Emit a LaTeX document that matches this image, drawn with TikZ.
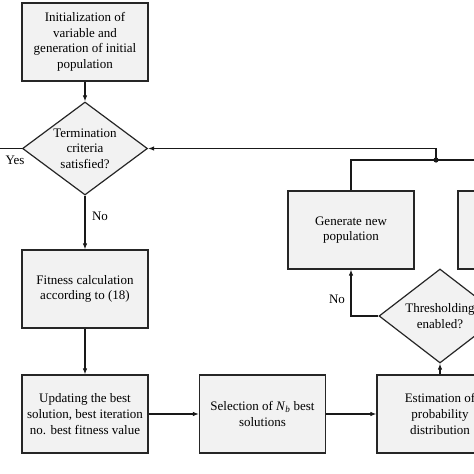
\documentclass[tikz,border=0pt]{standalone}
\usepackage{fontspec}
\setmainfont{Liberation Serif}
\usetikzlibrary{shapes.geometric, arrows.meta}
\begin{document}
\begin{tikzpicture}[x=1pt, y=-1pt, >={Latex[length=6pt, width=4.5pt]}]
  \tikzstyle{stepbox}=[rectangle, line width=1.2pt, draw=black!85, fill=gray!10,
    minimum width=126pt, minimum height=78pt, align=center,
    font=\fontsize{13}{15.6}\selectfont]
  \tikzstyle{decision}=[diamond, line width=1.2pt, draw=black!85, fill=gray!10,
    aspect=1.34, inner sep=0pt, minimum width=125pt, minimum height=93pt,
    align=center, font=\fontsize{13}{15.6}\selectfont]
  \tikzstyle{flow}=[line width=1.1pt, draw=black!90]
  \tikzstyle{lbl}=[font=\fontsize{13}{15.6}\selectfont]
  \clip (0, 0) rectangle (474, 474);
  \fill[white] (0, 0) rectangle (474, 474);
  \node[stepbox] (init) at (85, 42) {Initialization of\\variable and\\generation of initial\\population};
  \node[decision] (term) at (85, 148.5) {Termination\\criteria\\satisfied?};
  \node[stepbox] (fit) at (85, 289) {Fitness calculation\\according to (18)};
  \node[stepbox] (upd) at (85, 414) {Updating the best\\solution, best iteration\\no. best fitness value};
  \node[stepbox] (sel) at (262.5, 414) {Selection of \textit{N}\textsubscript{\textit{b}} best\\solutions};
  \node[stepbox] (est) at (440, 414) {Estimation of\\probability\\distribution};
  \node[decision, aspect=1.3, minimum width=122pt, minimum height=94pt] (thr) at (440, 316) {Thresholding\\enabled?};
  \node[stepbox] (gen) at (351, 230) {Generate new\\population};
  \node[stepbox] (nxt) at (521, 230) {};
  \coordinate (jn) at (436, 160);
  \coordinate (yesend) at (-5, 148.5);
  \draw[flow, ->] (init) -- (term);
  \draw[flow, ->] (term) -- (fit);
  \draw[flow, ->] (fit) -- (upd);
  \draw[flow, ->] (upd) -- (sel);
  \draw[flow, ->] (sel) -- (est);
  \draw[flow, ->] (est) -- (thr);
  \draw[flow, ->] (thr.west) -| (gen.south);
  \draw[flow] (gen.north) |- (jn);
  \draw[flow] (nxt.north) |- (jn);
  \draw[flow, ->] (jn) |- (term.east);
  \draw[flow] (term.west) -- (yesend);
  \fill[black!90] (jn) circle (2.6);
  \node[lbl] (yes) at (15, 160) {Yes};
  \node[lbl] (no-term) at (100, 216) {No};
  \node[lbl] (no-thr) at (337, 299) {No};
\end{tikzpicture}
\end{document}
